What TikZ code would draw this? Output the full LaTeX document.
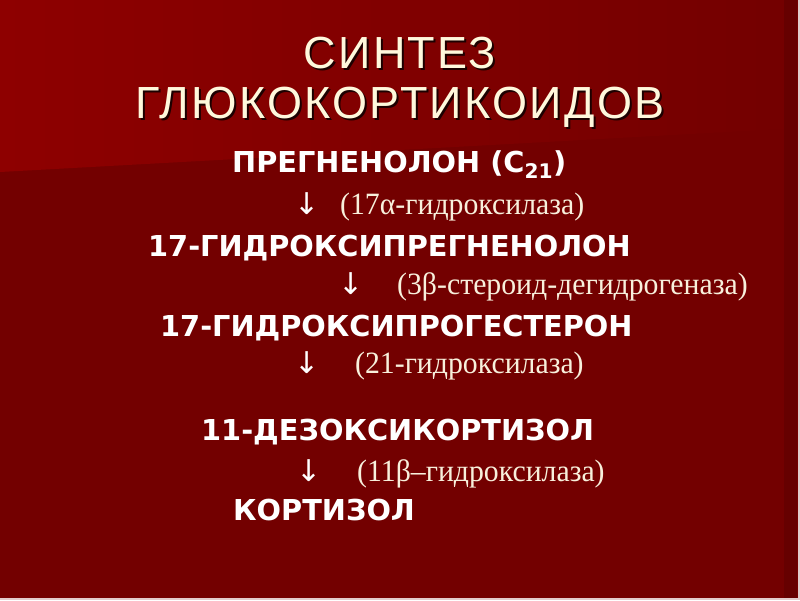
\documentclass[tikz,border=0pt]{standalone}
\usepackage{fontspec}
\setmainfont{Liberation Serif}[FakeStretch=0.96]
\newfontfamily\titlefont{Liberation Sans}[LetterSpace=5]
\newfontfamily\stepfont{DejaVu Sans}
\usepackage{xcolor}
\definecolor{slide-main}{HTML}{730000}
\definecolor{slide-light}{HTML}{8E0000}
\definecolor{slide-edge}{HTML}{660000}
\definecolor{slide-cream}{HTML}{FFF8DC}
\definecolor{slide-label}{HTML}{F8F0DC}
\newcommand\shadowed[1]{\makebox[0pt][l]{\hspace{2pt}\raisebox{-2pt}{\color{black!75!slide-main}#1}}#1}
\tikzset{
  title/.style={text=slide-cream, font=\titlefont\fontsize{45}{50}\selectfont, inner sep=0pt, anchor=base},
  compound/.style={text=white, font=\stepfont\bfseries\fontsize{28.8}{32}\selectfont, inner sep=0pt, anchor=base west},
  enzyme/.style={text=slide-label, font=\fontsize{31}{34}\selectfont, inner sep=0pt, anchor=base west},
  down/.style={text=white, font=\stepfont\fontsize{30}{34}\selectfont, inner sep=0pt, anchor=base west}
}

\begin{document}
\begin{tikzpicture}[x=1pt, y=-1pt]

    % Background
    \fill[slide-main] (0, 0) rectangle (800, 600);
    \useasboundingbox (0, 0) rectangle (800, 600);

    % Light band
    \shade[left color=slide-light, right color=slide-main] (0, 0) -- (800, 0) -- (800, 128) -- (0, 172) -- cycle;

    % Edges
    \fill[slide-edge] (784, 0) rectangle (797, 600);
    \fill[white!80!slide-main] (798, 0) rectangle (800, 600);
    \fill[white!80!slide-main] (0, 598) rectangle (800, 600);

    % Title
    \node[title] (title1) at (400, 68) {\shadowed{СИНТЕЗ}};
    \node[title] (title2) at (400, 118) {\shadowed{ГЛЮКОКОРТИКОИДОВ}};

    % Steps
    \node[compound] (pregnenolone) at (232, 172) {ПРЕГНЕНОЛОН (C\textsubscript{21})};
    \node[down] (arrow1) at (294, 214) {↓};
    \node[enzyme] (enzyme1) at (340, 214) {(17α-гидроксилаза)};

    \node[compound] (hydroxypregnenolone) at (148, 256) {17-ГИДРОКСИПРЕГНЕНОЛОН};
    \node[down] (arrow2) at (338, 294) {↓};
    \node[enzyme] (enzyme2) at (397, 294) {(3β-стероид-дегидрогеназа)};

    \node[compound] (hydroxyprogesterone) at (160, 336) {17-ГИДРОКСИПРОГЕСТЕРОН};
    \node[down] (arrow3) at (294, 373) {↓};
    \node[enzyme] (enzyme3) at (355, 373) {(21-гидроксилаза)};

    \node[compound] (deoxycortisol) at (201, 440) {11-ДЕЗОКСИКОРТИЗОЛ};
    \node[down] (arrow4) at (296, 481) {↓};
    \node[enzyme] (enzyme4) at (357, 481) {(11β–гидроксилаза)};

    \node[compound] (cortisol) at (233, 520) {КОРТИЗОЛ};

\end{tikzpicture}
\end{document}
